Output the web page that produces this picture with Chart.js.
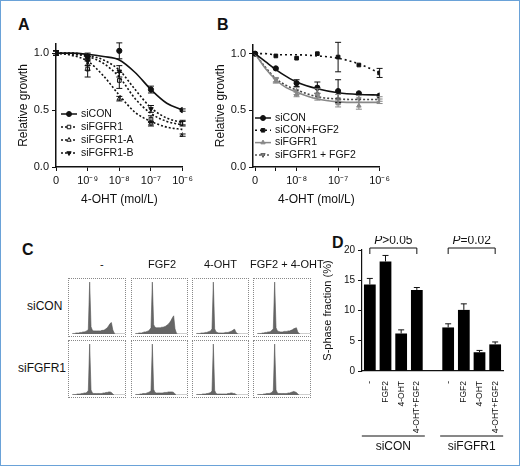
<!DOCTYPE html>
<html><head><meta charset="utf-8">
<script src="https://cdn.jsdelivr.net/npm/chart.js@4"></script>
<style>
body{margin:0;background:#fff;font-family:"Liberation Sans",Arial,sans-serif}
#fig{position:relative;width:518px;height:464px;border:1px solid #6aa2d8;overflow:hidden}
canvas,.t{position:absolute}
.t{font-size:11px;color:#111;white-space:nowrap}
.L{font-weight:bold;font-size:16px}
.box{position:absolute;border:1px dotted #888;box-sizing:border-box}
</style></head><body>
<div id="fig">
<div class="t L" style="left:17px;top:15px">A</div>
<div class="t L" style="left:216px;top:15px">B</div>
<div class="t L" style="left:21px;top:240px">C</div>
<div class="t L" style="left:331px;top:233px">D</div>
<canvas id="cA" style="left:0;top:30px" width="195" height="180"></canvas>
<canvas id="cB" style="left:197px;top:34px" width="195" height="176"></canvas>
<canvas id="cD" style="left:320px;top:235px" width="200" height="231"></canvas>
<div class="t" style="left:99px;top:257px">-</div>
<div class="t" style="left:147px;top:257px">FGF2</div>
<div class="t" style="left:203px;top:257px">4-OHT</div>
<div class="t" style="left:249px;top:257px">FGF2 + 4-OHT</div>
<div class="t" style="left:26px;top:298px;font-size:12px">siCON</div>
<div class="t" style="left:17px;top:360px;font-size:12px">siFGFR1</div>
</div>
<script>
// ---- data ----
const logX = [-10, -9, -8, -7, -6];
const xTickLabelsA = ['0', '10⁻⁹', '10⁻⁸', '10⁻⁷', '10⁻⁶'];
const curveX = [-10, -9.5, -9, -8.5, -8, -7.5, -7, -6.5, -6];

const aCon = [1.0, 0.97, 1.02, 0.68, 0.5];
const aConErr = [0.02, 0.03, 0.07, 0.03, 0.01];
const aConFit = [1.0, 1.0, 0.99, 0.97, 0.94, 0.83, 0.68, 0.56, 0.5];
const aF1 = [1.0, 0.86, 0.76, 0.42, 0.38];
const aF1Err = [0.02, 0.07, 0.07, 0.03, 0.02];
const aF1Fit = [1.0, 0.99, 0.97, 0.91, 0.79, 0.6, 0.47, 0.4, 0.37];
const aF1A = [1.0, 0.9, 0.6, 0.38, 0.28];
const aF1AErr = [0.02, 0.05, 0.02, 0.02, 0.01];
const aF1AFit = [1.0, 0.98, 0.93, 0.8, 0.63, 0.48, 0.4, 0.35, 0.33];
const aF1B = [1.0, 0.93, 0.84, 0.51, 0.39];
const aF1BErr = [0.02, 0.04, 0.05, 0.03, 0.02];
const aF1BFit = [1.0, 1.0, 0.98, 0.94, 0.85, 0.68, 0.52, 0.43, 0.39];

const bX = [-9, -8.5, -8, -7.5, -7, -6.5, -6];
const xTickLabelsB = ['0', '', '10⁻⁸', '10⁻⁷', '10⁻⁶'];
const bTickPos = [-9, -8.5, -8, -7, -6];
const bCurveX = [-9, -8.75, -8.5, -8.25, -8, -7.5, -7, -6.5, -6];
const bCon = [1.0, 0.87, 0.74, 0.7, 0.67, 0.65, 0.63];
const bConErr = [0, 0, 0.03, 0.05, 0.1, 0, 0];
const bConFit = [1.0, 0.93, 0.86, 0.8, 0.75, 0.69, 0.655, 0.64, 0.635];
const bConF = [1.0, 0.98, 0.96, 1.0, 0.97, 0.9, 0.83];
const bConFErr = [0, 0, 0, 0, 0.13, 0, 0.04];
const bConFFit = [1.0, 1.0, 0.99, 0.99, 0.99, 0.98, 0.96, 0.91, 0.83];
const bF1 = [1.0, 0.76, 0.64, 0.65, 0.56, 0.54, 0.58];
const bF1Err = [0, 0.02, 0.02, 0.04, 0.03, 0.03, 0.02];
const bF1Fit = [1.0, 0.87, 0.77, 0.7, 0.66, 0.6, 0.575, 0.57, 0.57];
const bF1F = [1.0, 0.77, 0.67, 0.62, 0.6, 0.6, 0.6];
const bF1FErr = [0, 0.02, 0.03, 0.03, 0.04, 0.03, 0.02];
const bF1FFit = [1.0, 0.88, 0.78, 0.72, 0.68, 0.62, 0.6, 0.595, 0.595];

const dLabels = ['-', 'FGF2', '4-OHT', '4-OHT+FGF2', '', '-', 'FGF2', '4-OHT', '4-OHT+FGF2'];
const dValues = [14.3, 18.1, 6.2, 13.4, null, 7.2, 10.1, 3.1, 4.4];
const dErr = [1.0, 1.0, 0.6, 0.4, 0, 0.6, 1.0, 0.3, 0.4];

const histBins = Array.from({length: 40}, (_, i) => i);
const hist = [
  [0,1,1,2,2,2,3,3,4,4,5,6,9,100,14,7,6,6,6,6,6,6,7,7,8,10,12,16,20,22,8,2,0,0,0,0,0,0,0,0],
  [0,1,1,2,2,2,3,4,4,5,6,8,12,100,18,13,12,12,12,12,13,13,14,15,17,19,22,26,31,35,10,2,0,0,0,0,0,0,0,0],
  [0,1,1,1,2,2,2,3,3,4,5,6,10,100,10,4,3,2,2,2,2,2,3,3,3,4,5,6,8,9,3,1,0,0,0,0,0,0,0,0],
  [0,1,1,1,2,2,3,3,4,4,5,7,10,100,12,6,5,4,4,4,5,5,5,6,6,7,8,10,11,12,4,1,0,0,0,0,0,0,0,0],
  [0,1,1,1,2,2,2,3,3,4,4,5,9,100,10,4,3,3,3,3,3,3,3,4,4,5,5,6,6,5,2,0,0,0,0,0,0,0,0,0],
  [0,1,1,1,2,2,3,3,3,4,5,6,9,100,11,5,4,4,4,4,4,4,5,5,5,6,6,6,6,5,2,0,0,0,0,0,0,0,0,0],
  [0,1,1,1,1,2,2,2,3,3,4,5,8,100,9,3,2,2,2,2,2,2,2,2,3,3,4,4,3,3,1,0,0,0,0,0,0,0,0,0],
  [0,1,1,1,1,2,2,3,3,3,4,5,9,100,10,4,3,3,3,3,3,3,3,4,4,5,6,7,6,5,2,0,0,0,0,0,0,0,0,0]
];
const histBoxes = [[67,277,58,59],[130,277,57,59],[191,277,57,59],[252,277,58,59],
                   [67,339,58,58],[130,339,57,58],[191,339,57,58],[252,339,58,58]];

Chart.defaults.font.family = '"Liberation Sans", Arial, sans-serif';
Chart.defaults.color = '#111';
Chart.defaults.animation = false;

// error bars + custom legend
const extras = {
  id: 'extras',
  afterDatasetsDraw(chart, args, opts) {
    const ctx = chart.ctx, xs = chart.scales.x, ys = chart.scales.y;
    ctx.save();
    chart.data.datasets.forEach((ds, di) => {
      if (!ds.err) return;
      const meta = chart.getDatasetMeta(di);
      ctx.strokeStyle = ds.errColor || '#111';
      ctx.lineWidth = 1;
      meta.data.forEach((el, i) => {
        const v = ds.data[i], e = ds.err[i];
        if (v == null || !e) return;
        const val = typeof v === 'object' ? v.y : v;
        const x = el.x, y1 = ys.getPixelForValue(val + e), y2 = ys.getPixelForValue(ds.upOnly ? val : val - e);
        ctx.beginPath();
        ctx.moveTo(x, y1); ctx.lineTo(x, y2);
        ctx.moveTo(x - 3, y1); ctx.lineTo(x + 3, y1);
        if (!ds.upOnly) { ctx.moveTo(x - 3, y2); ctx.lineTo(x + 3, y2); }
        ctx.stroke();
      });
    });
    if (opts.legend) {
      const L = opts.legend;
      ctx.font = '10.5px "Liberation Sans", Arial';
      ctx.textBaseline = 'middle';
      L.items.forEach((it, k) => {
        const y = L.y + k * L.dy;
        ctx.strokeStyle = it.color; ctx.lineWidth = 1.5;
        ctx.setLineDash(it.dash || []);
        ctx.beginPath(); ctx.moveTo(L.x, y); ctx.lineTo(L.x + 16, y); ctx.stroke();
        ctx.setLineDash([]);
        ctx.fillStyle = it.fill; ctx.strokeStyle = it.color; ctx.lineWidth = 1;
        Chart.helpers.drawPoint(ctx, {pointStyle: it.style, radius: 2.5, rotation: it.rot || 0, borderWidth: 1}, L.x + 8, y);
        ctx.fillStyle = '#111';
        ctx.fillText(it.label, L.x + 20, y);
      });
    }
    if (opts.groups) {
      ctx.strokeStyle = '#111'; ctx.lineWidth = 1;
      opts.groups.forEach(g => {
        const xa = xs.getPixelForValue(g.from) - 8, xb = xs.getPixelForValue(g.to) + 8;
        ctx.beginPath(); ctx.moveTo(xa, 200); ctx.lineTo(xb, 200); ctx.stroke();
        ctx.fillStyle = '#111'; ctx.textBaseline = 'top'; ctx.textAlign = 'center';
        ctx.font = '12px "Liberation Sans", Arial';
        ctx.fillText(g.label, (xa + xb) / 2, 205);
        const ba = xs.getPixelForValue(g.from), bb = xs.getPixelForValue(g.to);
        ctx.beginPath(); ctx.moveTo(ba, 18); ctx.lineTo(ba, 12); ctx.lineTo(bb, 12); ctx.lineTo(bb, 18); ctx.stroke();
        ctx.textBaseline = 'bottom'; ctx.textAlign = 'left';
        ctx.font = 'italic 12px "Liberation Sans", Arial';
        const w1 = ctx.measureText('P').width;
        ctx.font = '12px "Liberation Sans", Arial';
        const w2 = ctx.measureText(g.p).width;
        const cx = (ba + bb) / 2 - (w1 + w2) / 2;
        ctx.font = 'italic 12px "Liberation Sans", Arial';
        ctx.fillText('P', cx, 11);
        ctx.font = '12px "Liberation Sans", Arial';
        ctx.fillText(g.p, cx + w1, 11);
      });
    }
    ctx.restore();
  }
};

function pts(xs, ys) { return xs.map((x, i) => ({x, y: ys[i]})); }
function fitDs(xs, ys, color, dash) {
  return {data: pts(xs, ys), borderColor: color, borderWidth: 1.6, borderDash: dash || [], pointRadius: 0, tension: 0.4, cubicInterpolationMode: 'monotone'};
}
function ptDs(xs, ys, err, style, fill, color, rot) {
  return {data: pts(xs, ys), err, showLine: false, pointStyle: style, pointRadius: 2.6, pointRotation: rot || 0,
    pointBackgroundColor: fill, pointBorderColor: color, pointBorderWidth: 1, errColor: color};
}

function doseOptions(min, tickPos, tickLabels, legend, pad) {
  return {
    responsive: false,
    layout: {padding: pad},
    plugins: {legend: {display: false}, tooltip: {enabled: false}, extras: {legend}},
    scales: {
      x: {type: 'linear', min, max: -6,
        afterBuildTicks: s => { s.ticks = tickPos.map(v => ({value: v})); },
        afterFit: s => { s.height = 44; },
        ticks: {autoSkip: false, maxRotation: 0, font: {size: 11}, callback: (v, i) => tickLabels[i]},
        grid: {display: true, drawOnChartArea: false, color: '#111', tickLength: 4},
        border: {color: '#111', width: 1.5},
        title: {display: true, text: '4-OHT (mol/L)', font: {size: 12}, padding: {top: 2}}},
      y: {min: 0, max: 1.08,
        afterBuildTicks: s => { s.ticks = [0, 0.5, 1].map(v => ({value: v})); },
        afterFit: s => { s.width = 40; },
        ticks: {font: {size: 11}, callback: v => v.toFixed(1)},
        grid: {display: true, drawOnChartArea: false, color: '#111', tickLength: 4},
        border: {color: '#111', width: 1.5},
        title: {display: true, text: 'Relative growth', font: {size: 12}, padding: 0}}
    }
  };
}

// Panel A
new Chart(document.getElementById('cA'), {
  type: 'line',
  data: {datasets: [
    fitDs(curveX, aConFit, '#111'),
    fitDs(curveX, aF1Fit, '#111', [2, 2]),
    fitDs(curveX, aF1AFit, '#111', [2, 2]),
    fitDs(curveX, aF1BFit, '#111', [2, 2]),
    ptDs(logX, aCon, aConErr, 'circle', '#111', '#111'),
    ptDs(logX, aF1, aF1Err, 'rect', '#fff', '#111'),
    ptDs(logX, aF1A, aF1AErr, 'triangle', '#fff', '#111'),
    ptDs(logX, aF1B, aF1BErr, 'triangle', '#111', '#111', 180)
  ]},
  plugins: [extras],
  options: doseOptions(-10, logX, xTickLabelsA, {x: 60, y: 83, dy: 13, items: [
    {label: 'siCON', color: '#111', style: 'circle', fill: '#111'},
    {label: 'siFGFR1', color: '#111', dash: [2, 2], style: 'rect', fill: '#fff'},
    {label: 'siFGFR1-A', color: '#111', dash: [2, 2], style: 'triangle', fill: '#fff'},
    {label: 'siFGFR1-B', color: '#111', dash: [2, 2], style: 'triangle', fill: '#111', rot: 180}
  ]}, {left: 15, right: 9, top: 13, bottom: 0})
});

// Panel B
new Chart(document.getElementById('cB'), {
  type: 'line',
  data: {datasets: [
    fitDs(bCurveX, bConFit, '#111'),
    fitDs(bCurveX, bConFFit, '#111', [2, 3]),
    fitDs(bCurveX, bF1Fit, '#888'),
    fitDs(bCurveX, bF1FFit, '#444', [2, 2]),
    ptDs(bX, bCon, bConErr, 'circle', '#111', '#111'),
    ptDs(bX, bConF, bConFErr, 'rect', '#111', '#111'),
    ptDs(bX, bF1, bF1Err, 'triangle', '#888', '#888'),
    ptDs(bX, bF1F, bF1FErr, 'triangle', '#888', '#888', 180)
  ]},
  plugins: [extras],
  options: doseOptions(-9.05, bTickPos, xTickLabelsB, {x: 57, y: 83, dy: 12.3, items: [
    {label: 'siCON', color: '#111', style: 'circle', fill: '#111'},
    {label: 'siCON+FGF2', color: '#111', dash: [2, 3], style: 'rect', fill: '#111'},
    {label: 'siFGFR1', color: '#888', style: 'triangle', fill: '#888'},
    {label: 'siFGFR1 + FGF2', color: '#555', dash: [2, 2], style: 'triangle', fill: '#888', rot: 180}
  ]}, {left: 15, right: 7, top: 9, bottom: 0})
});

// Panel C histograms
const fig = document.getElementById('fig');
hist.forEach((h, k) => {
  const [l, t, w, hh] = histBoxes[k];
  const d = document.createElement('div');
  d.className = 'box';
  d.style.cssText = `left:${l}px;top:${t}px;width:${w}px;height:${hh}px`;
  const c = document.createElement('canvas');
  c.width = w - 2; c.height = hh - 2;
  c.style.cssText = 'left:0;top:0';
  d.appendChild(c); fig.appendChild(d);
  new Chart(c, {
    type: 'line',
    data: {labels: histBins, datasets: [{data: h, fill: 'origin', backgroundColor: '#666', borderColor: '#555',
      borderWidth: 0.6, pointRadius: 0, tension: 0}]},
    options: {responsive: false, layout: {padding: {left: 3, right: 0, top: 1, bottom: 2}},
      plugins: {legend: {display: false}, tooltip: {enabled: false}},
      scales: {x: {display: false}, y: {display: false, min: 0, max: 104}}}
  });
});

// Panel D
new Chart(document.getElementById('cD'), {
  type: 'bar',
  data: {labels: dLabels, datasets: [{data: dValues, err: dErr, upOnly: true, backgroundColor: '#000',
    barPercentage: 0.75, categoryPercentage: 1}]},
  plugins: [extras],
  options: {
    responsive: false,
    layout: {padding: {left: 0, right: 18, top: 14, bottom: 0}},
    plugins: {legend: {display: false}, tooltip: {enabled: false},
      extras: {groups: [{from: 0, to: 3, label: 'siCON', p: '>0.05'}, {from: 5, to: 8, label: 'siFGFR1', p: '=0.02'}]}},
    scales: {
      x: {afterFit: s => { s.height = 96; },
        ticks: {autoSkip: false, minRotation: 90, maxRotation: 90, padding: 2, font: {size: 8.5}},
        grid: {display: false}, border: {color: '#111', width: 1.2}},
      y: {min: 0, max: 20, afterFit: s => { s.width = 41; },
        ticks: {stepSize: 5, font: {size: 10}},
        grid: {display: true, drawOnChartArea: false, color: '#111', tickLength: 4},
        border: {color: '#111', width: 1.2},
        title: {display: true, text: 'S-phase fraction (%)', font: {size: 11}, padding: 0}}
    }
  }
});
</script>
</body></html>
